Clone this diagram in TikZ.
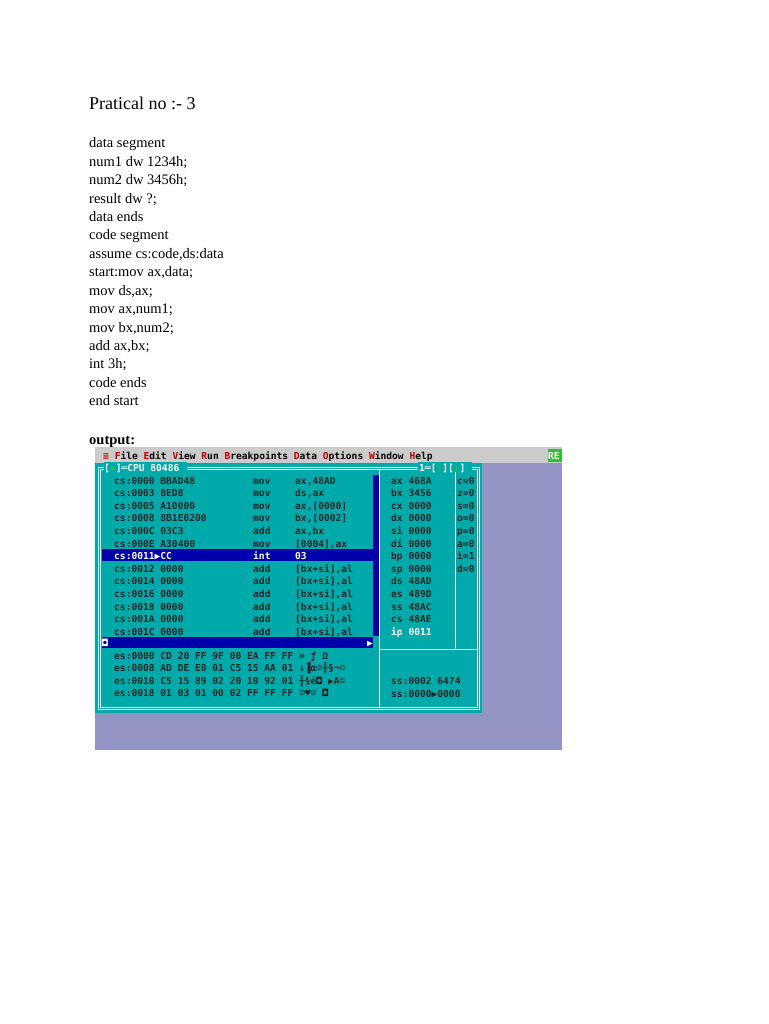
\documentclass[tikz,border=0pt]{standalone}
\usepackage{fontspec}
\setmainfont{Liberation Serif}
\newfontfamily\dosfont{DejaVu Sans Mono}
\definecolor{tdteal}{HTML}{00AAAA}
\definecolor{tdblue}{HTML}{0000AA}
\definecolor{tdpurple}{HTML}{9494C4}
\definecolor{tdmenu}{HTML}{CBCBCB}
\definecolor{tdred}{HTML}{C00000}
\definecolor{tdgreen}{HTML}{30C030}
\tikzset{
  body/.style={anchor=base west,inner sep=0pt,font=\fontsize{14.5}{17}\selectfont},
  dos/.style={anchor=base west,inner sep=0pt,font=\dosfont\bfseries\fontsize{9.6}{10}\selectfont},
  border/.style={white,line width=0.8pt}
}
\newcommand{\mkey}[2]{\textcolor{tdred}{#1}#2}
\begin{document}
\begin{tikzpicture}[x=1pt,y=-1pt]
\useasboundingbox[fill=white] (0,0) rectangle (768,1024);
% text part
\node[body,font=\fontsize{18}{20}\selectfont] (title) at (89,110) {Pratical no :- 3};
\foreach \t [count=\i] in {data segment,num1 dw 1234h;,num2 dw 3456h;,result dw ?;,data ends,code segment,{assume cs:code,ds:data},{start:mov ax,data;},{mov ds,ax;},{mov ax,num1;},{mov bx,num2;},{add ax,bx;},int 3h;,code ends,end start}
  \node[body] (src\i) at (89,{148+(\i-1)*18.4}) {\t};
\node[body,font=\bfseries\fontsize{14.5}{17}\selectfont] (outlbl) at (89,444) {output:};
% screenshot
\fill[tdpurple] (95,447) rectangle (562,750);
\fill[tdmenu] (95,447) rectangle (562,463);
\fill[tdgreen] (548,449) rectangle (562,462);
\node[dos,white] (ready) at (548,459) {RE};
\node[dos] (menu) at (103,459) {\mkey{≡}{} \mkey{F}{ile}  \mkey{E}{dit}  \mkey{V}{iew}  \mkey{R}{un}  \mkey{B}{reakpoints}  \mkey{D}{ata}  \mkey{O}{ptions}  \mkey{W}{indow}  \mkey{H}{elp}};
\fill[tdteal] (95,463) rectangle (482,713);
% borders
\draw[border] (98,467) -- (479,467) -- (479,709) -- (98,709) -- cycle;
\draw[border] (100,469) -- (477,469) -- (477,707) -- (100,707) -- cycle;
\draw[border] (379,469) -- (379,707);
\draw[border] (455,469) -- (455,649);
\draw[border] (379,649) -- (477,649);
\fill[tdteal] (104,462) rectangle (187,472);
\node[dos,white] (cpulbl) at (104,471) {[\textcolor{tdgreen}{▪}]═CPU 80486};
\fill[tdteal] (418,462) rectangle (472,472);
\node[dos,white] (panes) at (419,471) {1═[\textcolor{tdgreen}{↑}][\textcolor{tdgreen}{↓}]};
% scrollbars and highlight
\fill[tdblue] (373,475) rectangle (379,636);
\fill[tdblue] (102,637) rectangle (373,648);
\fill[tdblue] (102,549) rectangle (373,561);
\node[dos,white] (hl) at (102,646) {◘};
\node[dos,white] (hr) at (367,646) {▶};
% code pane
\foreach \a/\h/\m/\o [count=\i] in {
  {cs:0000/BBAD48/mov/{ax,48AD}},{cs:0003/8ED8/mov/{ds,ax}},
  {cs:0005/A10000/mov/{ax,[0000]}},{cs:0008/8B1E0200/mov/{bx,[0002]}},
  {cs:000C/03C3/add/{ax,bx}},{cs:000E/A30400/mov/{[0004],ax}},
  {cs:0011/▶CC/int/03},{cs:0012/0000/add/{[bx+si],al}},
  {cs:0014/0000/add/{[bx+si],al}},{cs:0016/0000/add/{[bx+si],al}},
  {cs:0018/0000/add/{[bx+si],al}},{cs:001A/0000/add/{[bx+si],al}},
  {cs:001C/0000/add/{[bx+si],al}}}{
  \ifnum\i=7 \def\tc{white}\else\def\tc{black!85}\fi
  \node[dos,text=\tc] (adr\i) at (114,{484+(\i-1)*12.6}) {\a\ifnum\i=7\else\ \fi\h};
  \node[dos,text=\tc] (mn\i) at (253,{484+(\i-1)*12.6}) {\m};
  \node[dos,text=\tc] (op\i) at (295,{484+(\i-1)*12.6}) {\o};
}
% registers
\foreach \r/\v [count=\i] in {ax/468A,bx/3456,cx/0000,dx/0000,si/0000,di/0000,bp/0000,sp/0000,ds/48AD,es/489D,ss/48AC,cs/48AE}
  \node[dos,black!85] (reg\i) at (391,{484+(\i-1)*12.6}) {\r\ \v};
\node[dos,white] (regip) at (391,635) {ip 0011};
\foreach \f [count=\i] in {c=0,z=0,s=0,o=0,p=0,a=0,i=1,d=0}
  \node[dos,black!85] (flag\i) at (457,{484+(\i-1)*12.6}) {\f};
% dump
\foreach \d [count=\i] in {{es:0000 CD 20 FF 9F 00 EA FF FF =   ƒ Ω},{es:0008 AD DE E0 01 C5 15 AA 01 ↓▐α☺╫§¬☺},{es:0010 C5 15 89 02 20 10 92 01 ╫§é◘ ▶A☺},{es:0018 01 03 01 00 02 FF FF FF ☺♥☺ ◘}}
  \node[dos,black!85] (dump\i) at (114,{659+(\i-1)*12.6}) {\d};
% stack
\node[dos,black!85] (stk1) at (391,684) {ss:0002 6474};
\node[dos,black!85] (stk2) at (391,697) {ss:0000▶0000};
\end{tikzpicture}
\end{document}
